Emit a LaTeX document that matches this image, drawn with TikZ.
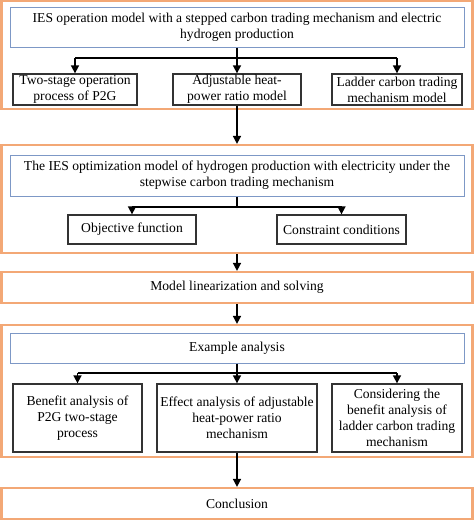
\documentclass[tikz,border=0pt]{standalone}
\usepackage{fontspec}
\setmainfont{Liberation Serif}
\usetikzlibrary{arrows.meta}
\definecolor{orframe}{RGB}{243,168,118}
\definecolor{blframe}{RGB}{125,152,198}
\begin{document}
\begin{tikzpicture}[x=1pt,y=-1pt,
  every node/.style={font=\fontsize{13.6}{16.2}\selectfont, align=center, inner sep=0pt},
  grp/.style={draw=orframe, line width=2.2pt, minimum width=471pt, fill=white},
  hdr/.style={draw=blframe, line width=1pt, minimum width=454pt},
  sub/.style={draw=black!80, line width=1.3pt},
  con/.style={line width=1.6pt},
  arr/.style={line width=1.6pt, -{Triangle[length=8pt,width=8pt]}}
]
\useasboundingbox (0,0) rectangle (474,520);
% group 1
\node[grp, minimum height=108pt] (g1) at (237,55) {};
\node[hdr, minimum height=40pt] (h1) at (237,27) {IES operation model with a stepped carbon trading mechanism and electric\\hydrogen production};
\node[sub, minimum width=124pt, minimum height=31pt] (a1) at (75,89.5) {Two-stage operation\\process of P2G};
\node[sub, minimum width=128pt, minimum height=31pt] (a2) at (237,89.5) {Adjustable heat-\\power ratio model};
\node[sub, minimum width=130pt, minimum height=31pt] (a3) at (397,89.5) {Ladder carbon trading\\mechanism model};
\coordinate (j1) at (237,58);
\draw[con] (h1.south) -- (j1);
\draw[con] (a1.north |- j1) -- (a3.north |- j1);
\foreach \n in {a1,a2,a3} \draw[arr] (\n.north |- j1) -- (\n.north);
% group 2
\node[grp, minimum height=108pt] (g2) at (237,199) {};
\draw[arr] (a2.south) -- (g2.north);
\node[hdr, minimum height=41pt] (h2) at (237,175.5) {The IES optimization model of hydrogen production with electricity under the\\stepwise carbon trading mechanism};
\node[sub, minimum width=128pt, minimum height=29pt] (b1) at (132,229.5) {Objective function};
\node[sub, minimum width=129pt, minimum height=29pt] (b2) at (341.5,229.5) {Constraint conditions};
\coordinate (j2) at (237,207);
\draw[con] (h2.south) -- (j2);
\draw[con] (b1.north |- j2) -- (b2.north |- j2);
\foreach \n in {b1,b2} \draw[arr] (\n.north |- j2) -- (\n.north);
% group 3
\node[grp, minimum height=31pt] (g3) at (237,287.5) {Model linearization and solving};
\draw[arr] (g2.south) -- (g3.north);
% group 4
\node[grp, minimum height=132pt] (g4) at (237,391) {};
\draw[arr] (g3.south) -- (g4.north);
\node[hdr, minimum height=30pt] (h4) at (237,348) {Example analysis};
\node[sub, minimum width=129pt, minimum height=68pt] (e1) at (77.5,418) {Benefit analysis of\\P2G two-stage\\process};
\node[sub, minimum width=160pt, minimum height=68pt] (e2) at (237,418) {Effect analysis of adjustable\\heat-power ratio\\mechanism};
\node[sub, minimum width=130pt, minimum height=68pt] (e3) at (397,418) {Considering the\\benefit analysis of\\ladder carbon trading\\mechanism};
\coordinate (j4) at (237,373);
\draw[con] (h4.south) -- (j4);
\draw[con] (e1.north |- j4) -- (e3.north |- j4);
\foreach \n in {e1,e2,e3} \draw[arr] (\n.north |- j4) -- (\n.north);
% conclusion
\node[grp, minimum height=31pt] (g5) at (237,503.5) {Conclusion};
\draw[arr] (e2.south) -- (g5.north);
\end{tikzpicture}
\end{document}
